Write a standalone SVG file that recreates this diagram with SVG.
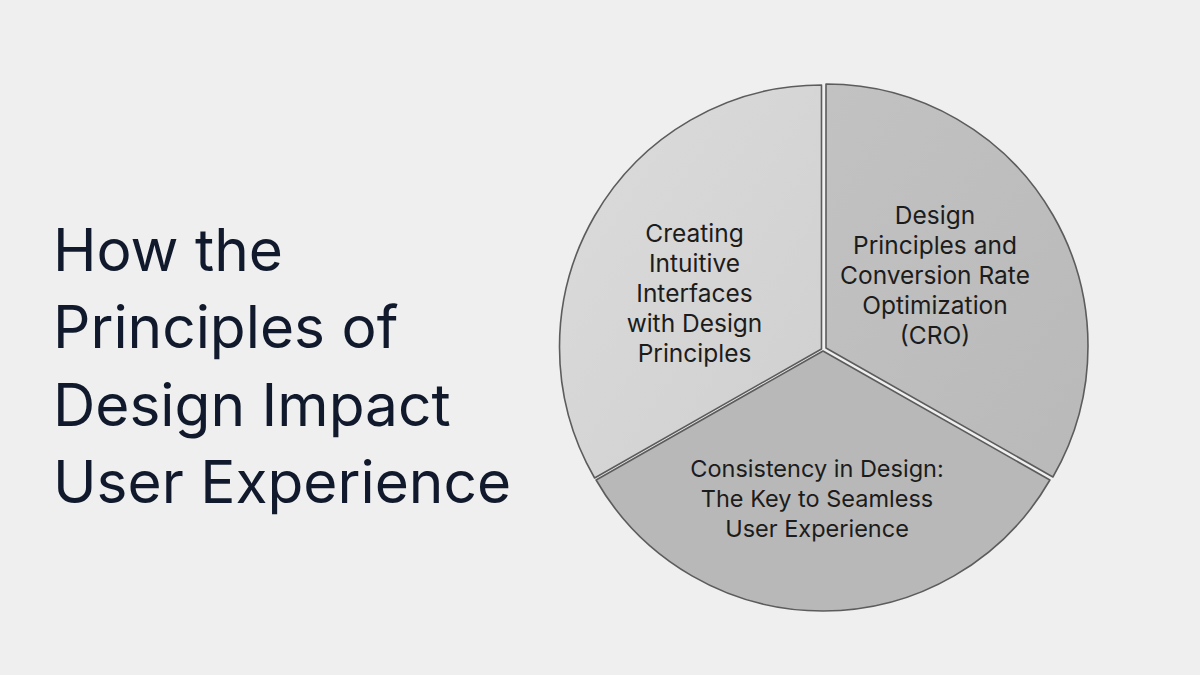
<svg xmlns="http://www.w3.org/2000/svg" width="1200" height="675" viewBox="0 0 1200 675">
<defs>
<style>
.title{font-family:Inter,"Liberation Sans",sans-serif;font-size:58.6px;fill:#111a2c}
.lbl{font-family:Inter,"Liberation Sans",sans-serif;font-size:24.5px;fill:#1c1c1c;text-anchor:middle}
.lbl2{font-family:Inter,"Liberation Sans",sans-serif;font-size:23.5px;fill:#1c1c1c;text-anchor:middle}
.seg{stroke:#5c5c5c;stroke-width:1.6;stroke-linejoin:round}
</style>
<linearGradient id="gL" x1="0" y1="0" x2="1" y2="1">
<stop offset="0" stop-color="#dcdcdc"/>
<stop offset="1" stop-color="#cfcfcf"/>
</linearGradient>
<linearGradient id="gR" x1="0" y1="0" x2="1" y2="1">
<stop offset="0" stop-color="#c2c2c2"/>
<stop offset="1" stop-color="#b9b9b9"/>
</linearGradient>
</defs>
<rect width="1200" height="675" fill="#efefef"/>
<g id="title">
<text class="title" x="53" y="271">How the</text>
<text class="title" x="53" y="348">Principles of</text>
<text class="title" x="53" y="426">Design Impact</text>
<text class="title" x="53" y="503">User Experience</text>
</g>
<g id="seg-left" transform="translate(-1.5,0)">
<path class="seg" fill="url(#gL)" d="M823,349 L823,85 A262,262 0 0 0 596.1,478 Z"/>
<text class="lbl" x="696" y="242">Creating</text>
<text class="lbl" x="696" y="272">Intuitive</text>
<text class="lbl" x="696" y="302">Interfaces</text>
<text class="lbl" x="696" y="332">with Design</text>
<text class="lbl" x="696" y="362">Principles</text>
</g>
<g id="seg-right" transform="translate(3,-1)">
<path class="seg" fill="url(#gR)" d="M823,349 L823,85 A262,262 0 0 1 1049.9,478 Z"/>
<text class="lbl" x="932" y="225">Design</text>
<text class="lbl" x="932" y="255">Principles and</text>
<text class="lbl" x="932" y="285">Conversion Rate</text>
<text class="lbl" x="932" y="315">Optimization</text>
<text class="lbl" x="932" y="345">(CRO)</text>
</g>
<g id="seg-bottom" transform="translate(0,2)">
<path class="seg" fill="#b8b8b8" d="M823,349 L1049.9,478 A262,262 0 0 1 596.1,478 Z"/>
<text class="lbl2" x="817" y="475">Consistency in Design:</text>
<text class="lbl2" x="817" y="505">The Key to Seamless</text>
<text class="lbl2" x="817" y="535">User Experience</text>
</g>
</svg>
